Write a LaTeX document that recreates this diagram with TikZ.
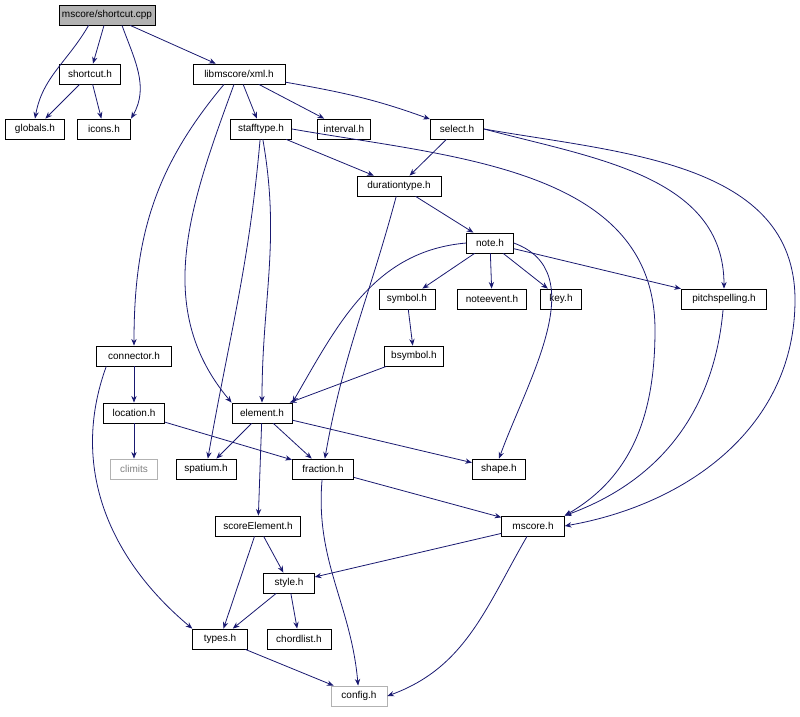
\documentclass[tikz,border=0pt]{standalone}
\usepackage{fontspec}
\setmainfont{Liberation Sans}
\usetikzlibrary{arrows.meta}
\begin{document}
\begin{tikzpicture}[x=0.75pt,y=-0.75pt,
 n/.style={draw=black,fill=white,line width=0.6pt,inner sep=0pt,minimum height=15pt,font=\fontsize{7.5}{8}\selectfont},
 g/.style={n,draw=gray!60},
 e/.style={draw={rgb,255:red,25;green,25;blue,112},line width=0.6pt,-{Stealth[length=5pt,width=4pt]}}]
\useasboundingbox (0,0) rectangle (800,717);
\node[n,fill=gray!60,minimum width=72pt] (cpp) at (107,15) {mscore/shortcut.cpp};
\node[n,minimum width=46pt] (sh) at (90,74) {shortcut.h};
\node[n,minimum width=69pt] (xml) at (239,74) {libmscore/xml.h};
\node[n,minimum width=44pt] (glob) at (35,129) {globals.h};
\node[n,minimum width=40pt] (icons) at (104,129) {icons.h};
\node[n,minimum width=46pt] (staff) at (261,129) {stafftype.h};
\node[n,minimum width=40pt] (int) at (344,129) {interval.h};
\node[n,minimum width=40pt] (sel) at (457,129) {select.h};
\node[n,minimum width=63pt] (dur) at (399,186) {durationtype.h};
\node[n,minimum width=35pt] (note) at (490,243) {note.h};
\node[n,minimum width=42pt] (sym) at (407,299) {symbol.h};
\node[n,minimum width=52pt] (nev) at (492,299) {noteevent.h};
\node[n,minimum width=31pt] (key) at (561,299) {key.h};
\node[n,minimum width=64pt] (pitch) at (724,299) {pitchspelling.h};
\node[n,minimum width=56pt] (conn) at (134,356) {connector.h};
\node[n,minimum width=44pt] (bsym) at (414,356) {bsymbol.h};
\node[n,minimum width=46pt] (loc) at (134,413) {location.h};
\node[n,minimum width=45pt] (elem) at (262,413) {element.h};
\node[g,minimum width=35pt,text=gray] (clim) at (134,469) {climits};
\node[n,minimum width=45pt] (spat) at (206,469) {spatium.h};
\node[n,minimum width=46pt] (frac) at (323,469) {fraction.h};
\node[n,minimum width=40pt] (shape) at (499,469) {shape.h};
\node[n,minimum width=64pt] (se) at (258,526) {scoreElement.h};
\node[n,minimum width=47pt] (ms) at (533,526) {mscore.h};
\node[n,minimum width=38pt] (style) at (289,583) {style.h};
\node[n,minimum width=41pt] (types) at (220,639) {types.h};
\node[n,minimum width=48pt] (chord) at (299,639) {chordlist.h};
\node[g,minimum width=42pt] (conf) at (359,696) {config.h};
\draw[e] (cpp) -- (sh);
\draw[e] (cpp) -- (xml);
\draw[e] (cpp.south west) ++(30,0) to[out=-120,in=80] (glob.north);
\draw[e] (cpp.south) ++(15,0) to[out=-70,in=60] (icons.north east);
\draw[e] (sh) -- (glob);
\draw[e] (sh) -- (icons);
\draw[e] (xml) -- (staff);
\draw[e] (xml) -- (int);
\draw[e] (xml) to[out=-10,in=160] (sel);
\draw[e] (xml.south) ++(-15,0) to[out=-130,in=90] (conn.north);
\draw[e] (xml.south) ++(-5,0) to[out=-110,in=130] (elem.north west);
\draw[e] (staff) -- (dur);
\draw[e] (staff) to[out=-80,in=90] (elem);
\draw[e] (staff) to[out=-95,in=80] (spat);
\draw[e] (staff.east) to[out=-10,in=90] (655,330) to[out=-90,in=30] (ms.north east);
\draw[e] (sel) -- (dur);
\draw[e] (sel.east) to[out=-15,in=90] (pitch.north);
\draw[e] (sel.east) to[out=-10,in=90] (795,300) to[out=-90,in=10] (ms.east);
\draw[e] (dur) -- (note);
\draw[e] (dur) to[out=-105,in=80] (frac);
\draw[e] (note) -- (sym);
\draw[e] (note) -- (nev);
\draw[e] (note) -- (key);
\draw[e] (note) -- (pitch);
\draw[e] (note.west) to[out=185,in=60] (elem.north east);
\draw[e] (note.east) to[out=-20,in=70] (shape.north);
\draw[e] (sym) -- (bsym);
\draw[e] (bsym) -- (elem);
\draw[e] (pitch) to[out=-95,in=20] (ms.north east);
\draw[e] (conn) -- (loc);
\draw[e] (conn.south west) ++(10,0) to[out=-110,in=140] (types.north west);
\draw[e] (loc) -- (clim);
\draw[e] (loc) -- (frac);
\draw[e] (elem) -- (spat);
\draw[e] (elem) -- (frac);
\draw[e] (elem) -- (shape);
\draw[e] (elem) -- (se);
\draw[e] (frac) -- (ms);
\draw[e] (frac) to[out=-95,in=95] (conf);
\draw[e] (se) -- (style);
\draw[e] (se) -- (types);
\draw[e] (ms) -- (style);
\draw[e] (ms) to[out=-120,in=20] (conf.east);
\draw[e] (style) -- (types);
\draw[e] (style) -- (chord);
\draw[e] (types) -- (conf);
\end{tikzpicture}
\end{document}
